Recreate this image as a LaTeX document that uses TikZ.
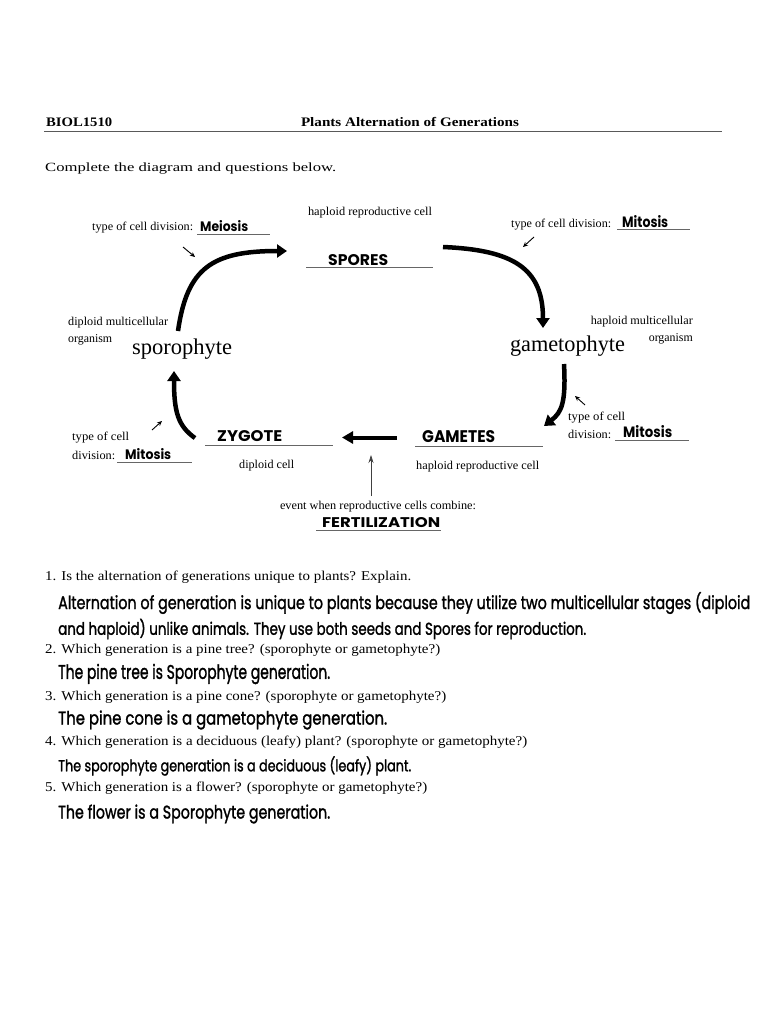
\documentclass[tikz,border=0pt]{standalone}
\usepackage{fontspec}
\usepackage{graphicx}
\setmainfont{Liberation Serif}
\newfontfamily\handfont{Poppins}
\newfontfamily\handfontm[FakeBold=1.6]{Poppins}
\usetikzlibrary{arrows.meta}
% #1 width, #2 height above baseline, #3 text
\newcommand\hw[3]{\resizebox{#1pt}{#2pt}{\fontsize{12}{12}\selectfont\handfont\bfseries #3}}
\newcommand\hr[3]{\resizebox{#1pt}{#2pt}{\fontsize{12}{12}\selectfont\handfontm #3}}
\newcommand\tx[3]{\resizebox{#1pt}{\height}{\fontsize{#2}{#2}\selectfont #3}}
\begin{document}
\begin{tikzpicture}[x=1pt,y=-1pt,
  lbl/.style={inner sep=0pt,anchor=west,font=\fontsize{12}{14}\selectfont},
  lblc/.style={inner sep=0pt,anchor=center,font=\fontsize{12}{14}\selectfont},
  lble/.style={inner sep=0pt,anchor=east,font=\fontsize{12}{14}\selectfont},
  hand/.style={inner sep=0pt,anchor=west},
  big/.style={inner sep=0pt,anchor=center,font=\fontsize{22.5}{24}\selectfont},
  uline/.style={draw=black!60,line width=0.6pt},
  bigarrow/.style={line width=4.5pt,-{Triangle[length=10pt,width=13pt]}},
  flatarrow/.style={line width=4pt,-{Triangle[length=11pt,width=12pt]}},
  smallarrow/.style={line width=0.9pt,-{Stealth[length=5pt,width=4.5pt]}},
  thinarrow/.style={draw=black!75,line width=0.6pt,-{Stealth[length=8pt,width=5pt]}}]
\useasboundingbox[fill=white] (0,0) rectangle (768,1024);

% header
\node[hand] (course) at (46,122) {\tx{66}{13}{\bfseries BIOL1510}};
\node[inner sep=0pt] (title) at (410,122) {\tx{218}{13}{\bfseries Plants Alternation of Generations}};
\coordinate (rl) at (44,131.5);
\coordinate (rr) at (722,131.5);
\draw[draw=black!65,line width=1.3pt] (rl) -- (rr);
\node[hand] (intro) at (45,169) {\tx{291}{12.5}{Complete the diagram and questions below.}};

% top labels
\node[lblc] (hrc1) at (370,213) {\tx{124}{12}{haploid reproductive cell}};
\node[lbl] (tcd1) at (92,228) {\tx{101}{12}{type of cell division:}};
\node[hand] (meiosis) at (200,226.5) {\hw{48}{11}{Meiosis}};
\coordinate (u1a) at (197,234); \coordinate (u1b) at (270,234);
\draw[uline] (u1a) -- (u1b);
\node[hand] (spores) at (328,260) {\hw{60}{11}{SPORES}};
\coordinate (u2a) at (306,267); \coordinate (u2b) at (433,267);
\draw[uline] (u2a) -- (u2b);
\node[lbl] (tcd2) at (511,225) {\tx{100}{12}{type of cell division:}};
\node[hand] (mit1) at (622,221.5) {\hw{46}{12}{Mitosis}};
\coordinate (u3a) at (617,229.5); \coordinate (u3b) at (690,229.5);
\draw[uline] (u3a) -- (u3b);

% small pointer arrows
\coordinate (p1a) at (183,247); \coordinate (p1b) at (195,257);
\draw[smallarrow] (p1a) -- (p1b);
\coordinate (p2a) at (534,237); \coordinate (p2b) at (523,247);
\draw[smallarrow] (p2a) -- (p2b);

% middle
\node[lbl] (dmo1) at (68,323) {\tx{100}{12}{diploid multicellular}};
\node[lbl] (dmo2) at (68,339.5) {\tx{44}{12}{organism}};
\node[big] (sporo) at (182,349) {\tx{100}{22.5}{sporophyte}};
\node[lble] (hmo1) at (693,322) {\tx{102}{12}{haploid multicellular}};
\node[lble] (hmo2) at (693,339) {\tx{44}{12}{organism}};
\node[big] (gameto) at (567.5,346) {\tx{115}{22.5}{gametophyte}};

% big curved arrows
\coordinate (a1s) at (178,331);
\coordinate (a1e) at (287,251);
\draw[bigarrow] (a1s) .. controls (187,268) and (212,251) .. (a1e);
\coordinate (a2s) at (443,247);
\coordinate (a2e) at (543,328);
\draw[bigarrow] (a2s) .. controls (513,250) and (543,268) .. (a2e);
\coordinate (a3s) at (564,364);
\coordinate (a3e) at (544,426);
\draw[bigarrow] (a3s) .. controls (566,402) and (562,412) .. (a3e);
\coordinate (a4s) at (195,438);
\coordinate (a4e) at (174,371);
\draw[bigarrow] (a4s) .. controls (178,426) and (174,412) .. (a4e);
\coordinate (a5s) at (397,437.5);
\coordinate (a5e) at (342,437.5);
\draw[flatarrow] (a5s) -- (a5e);

% bottom labels
\coordinate (p3a) at (585,405); \coordinate (p3b) at (575,396);
\draw[smallarrow] (p3a) -- (p3b);
\node[lbl] (tc3) at (568,418) {\tx{57}{12}{type of cell}};
\node[lbl] (dv3) at (568,434) {\tx{43}{12}{division:}};
\node[hand] (mit2) at (623,432) {\hw{49}{12}{Mitosis}};
\coordinate (u4a) at (615,440.5); \coordinate (u4b) at (689,440.5);
\draw[uline] (u4a) -- (u4b);

\node[hand] (gam) at (422,437) {\hw{73}{12}{GAMETES}};
\coordinate (u5a) at (415,446); \coordinate (u5b) at (543,446);
\draw[uline] (u5a) -- (u5b);
\node[lbl] (hrc2) at (416,466.5) {\tx{123}{12}{haploid reproductive cell}};

\node[hand] (zyg) at (217,436) {\hw{65}{11}{ZYGOTE}};
\coordinate (u6a) at (205,445.5); \coordinate (u6b) at (333,445.5);
\draw[uline] (u6a) -- (u6b);
\node[lbl] (dcell) at (239,466) {\tx{55}{12}{diploid cell}};

\coordinate (p4a) at (152,430); \coordinate (p4b) at (162,421);
\draw[smallarrow] (p4a) -- (p4b);
\node[lbl] (tc4) at (72,438) {\tx{57}{12}{type of cell}};
\node[lbl] (dv4) at (72,455) {\tx{43}{12}{division:}};
\node[hand] (mit3) at (125,454) {\hw{46}{11}{Mitosis}};
\coordinate (u7a) at (117,462.5); \coordinate (u7b) at (192,462.5);
\draw[uline] (u7a) -- (u7b);

\coordinate (va) at (371,496); \coordinate (vb) at (371,455);
\draw[thinarrow] (va) -- (vb);
\node[lblc] (event) at (378,507) {\tx{196}{12}{event when reproductive cells combine:}};
\node[hand] (fert) at (322,523) {\hw{118}{10}{FERTILIZATION}};
\coordinate (u8a) at (316,530.5); \coordinate (u8b) at (441,530.5);
\draw[uline] (u8a) -- (u8b);

% questions
\node[hand] (q1) at (45,577) {\tx{366}{13.5}{1. Is the alternation of generations unique to plants? Explain.}};
\node[hand] (a1a) at (58,603) {\hr{692}{17}{Alternation of generation is unique to plants because they utilize two multicellular stages (diploid}};
\node[hand] (a1b) at (58,629) {\hr{528}{16}{and haploid) unlike animals. They use both seeds and Spores for reproduction.}};
\node[hand] (q2) at (45,650) {\tx{395}{13.5}{2. Which generation is a pine tree? (sporophyte or gametophyte?)}};
\node[hand] (a2) at (58,674) {\hr{272}{15}{The pine tree is Sporophyte generation.}};
\node[hand] (q3) at (45,697) {\tx{401}{13.5}{3. Which generation is a pine cone? (sporophyte or gametophyte?)}};
\node[hand] (a3) at (58,720) {\hr{329}{14}{The pine cone is a gametophyte generation.}};
\node[hand] (q4) at (45,742) {\tx{482}{13.5}{4. Which generation is a deciduous (leafy) plant? (sporophyte or gametophyte?)}};
\node[hand] (a4) at (58,766) {\hr{353}{15}{The sporophyte generation is a deciduous (leafy) plant.}};
\node[hand] (q5) at (45,788) {\tx{382}{13.5}{5. Which generation is a flower? (sporophyte or gametophyte?)}};
\node[hand] (a5) at (58,814) {\hr{272}{14}{The flower is a Sporophyte generation.}};
\end{tikzpicture}
\end{document}
